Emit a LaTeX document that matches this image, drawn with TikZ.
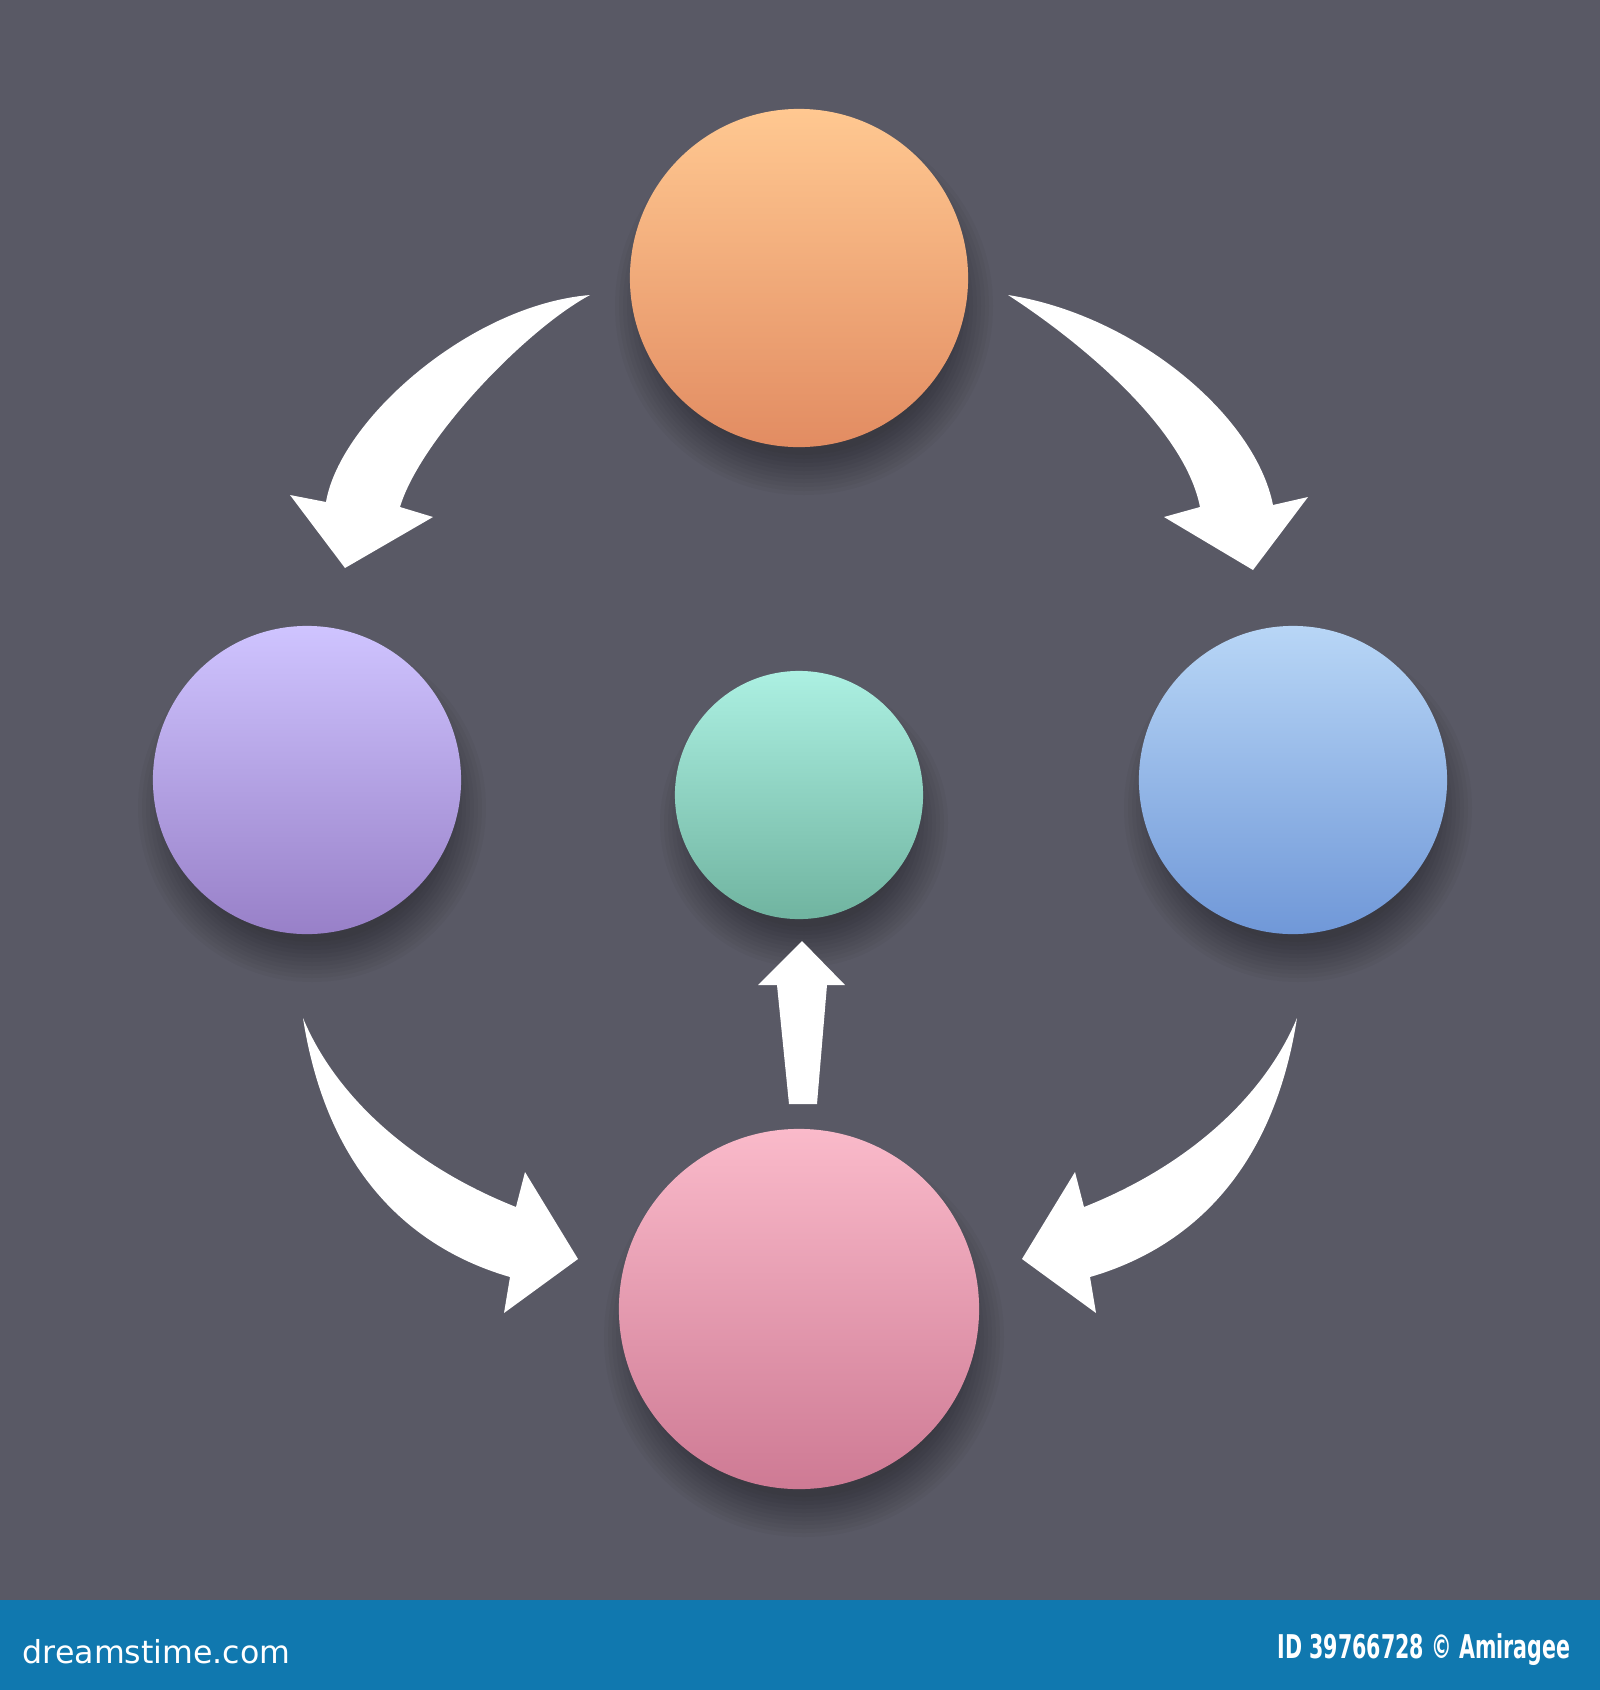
\documentclass[tikz,border=0pt]{standalone}
\usepackage{fontspec}
\setmainfont{DejaVu Sans}
\usepackage{graphicx}
\usetikzlibrary{positioning,calc}

\definecolor{board}{RGB}{89,89,101}
\definecolor{barblue}{RGB}{16,120,175}
\definecolor{orangetop}{RGB}{255,200,145}
\definecolor{orangebot}{RGB}{226,140,98}
\definecolor{violettop}{RGB}{207,196,255}
\definecolor{violetbot}{RGB}{152,128,200}
\definecolor{bluetop}{RGB}{184,214,246}
\definecolor{bluebot}{RGB}{112,152,216}
\definecolor{mintop}{RGB}{172,240,226}
\definecolor{minbot}{RGB}{112,180,160}
\definecolor{pinktop}{RGB}{250,186,202}
\definecolor{pinkbot}{RGB}{206,122,148}

\begin{document}
\begin{tikzpicture}
                    [x=0.01cm,y=-0.01cm,
                     ball/.style={circle,inner sep=0pt,draw=none},
                     bartext/.style={text=white,inner sep=0pt}]

    \fill[board] (0,0) rectangle (1600,1600);
    \fill[barblue] (0,1600) rectangle (1600,1690);
    \useasboundingbox (0,0) rectangle (1600,1690);

    % soft shadows under the balls
    \foreach \cx/\cy/\r in {799/278/169, 307/780/154, 1293/780/154, 799/795/124, 799/1309/180}
        \foreach \k in {0,...,10}
            \fill[black,opacity=0.03] (\cx+5,\cy+28) circle[radius=\r-20+4*\k];

    \node[ball,minimum size=3.38cm,top color=orangetop,bottom color=orangebot] (apex) at (799,278) {};
    \node[ball,minimum size=3.08cm,top color=violettop,bottom color=violetbot] (west) at (307,780) {};
    \node[ball,minimum size=3.08cm,top color=bluetop,bottom color=bluebot] (east) at (1293,780) {};
    \node[ball,minimum size=2.48cm,top color=mintop,bottom color=minbot] (core) at (799,795) {};
    \node[ball,minimum size=3.60cm,top color=pinktop,bottom color=pinkbot] (nadir) at (799,1309) {};

    % bent arrows
    \fill[white] (590,295) .. controls (470,305) and (340,420) .. (326,502)
        -- (290,495) -- (345,568) -- (433,517) -- (400,507)
        .. controls (420,440) and (525,330) .. cycle;
    \fill[white] (1008,295) .. controls (1135,315) and (1255,415) .. (1273,505)
        -- (1308,497) -- (1253,570) -- (1164,517) -- (1200,507)
        .. controls (1185,430) and (1085,345) .. cycle;
    \fill[white] (303,1018) .. controls (335,1095) and (410,1165) .. (516,1207)
        -- (525,1172) -- (578,1259) -- (504,1313) -- (510,1277)
        .. controls (400,1245) and (325,1160) .. cycle;
    \fill[white] (1297,1018) .. controls (1265,1095) and (1190,1165) .. (1084,1207)
        -- (1075,1172) -- (1022,1259) -- (1096,1313) -- (1090,1277)
        .. controls (1200,1245) and (1275,1160) .. cycle;

    % straight arrow up to the core
    \fill[white] (789,1104) -- (777,985) -- (758,985) -- (802,941)
        -- (845,985) -- (827,985) -- (817,1104) -- cycle;

    \node[bartext,anchor=base west,font=\fontsize{9}{11}\selectfont] (site) at (22,1663) {dreamstime.com};
    \node[bartext,anchor=base east,font=\bfseries\fontsize{9.3}{11}\selectfont] (credit) at (1571,1658)
        {\scalebox{0.63}[1]{ID 39766728 © Amiragee}};

\end{tikzpicture}
\end{document}
